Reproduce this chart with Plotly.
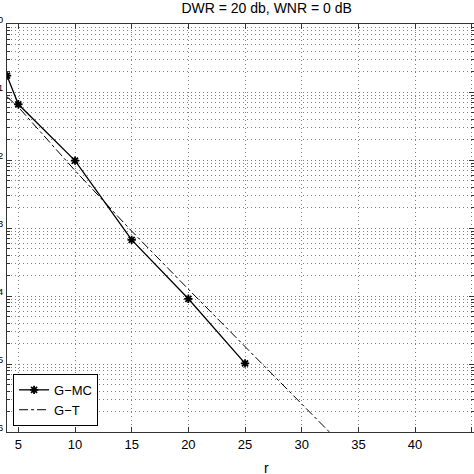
import plotly.graph_objects as go

# G-MC simulated points
r_mc = [4, 5, 10, 15, 20, 25]
p_mc = [0.174, 0.066, 0.0098, 6.7e-4, 9.1e-5, 1.02e-5]

# G-T theoretical curve
r_t = [4, 5, 10, 15, 20, 25, 30, 35]
p_t = [0.085, 0.060, 7.0e-3, 9.0e-4, 1.26e-4, 1.8e-5, 2.6e-6, 3.7e-7]

y_tickvals = [1, 1e-1, 1e-2, 1e-3, 1e-4, 1e-5, 1e-6]
y_ticktext = ["10<sup>0</sup>", "10<sup>-1</sup>", "10<sup>-2</sup>", "10<sup>-3</sup>",
              "10<sup>-4</sup>", "10<sup>-5</sup>", "10<sup>-6</sup>"]
x_tickvals = [5, 10, 15, 20, 25, 30, 35, 40, 45]

FONT = "Liberation Sans, Arial, Helvetica, sans-serif"
GRID = "#808080"
DOTS = "1px,3px"

fig = go.Figure()
fig.add_trace(go.Scatter(
    x=r_mc, y=p_mc, name="G\u2212MC", mode="lines+markers",
    line=dict(color="black", width=1.3),
    marker=dict(symbol="asterisk-open", size=7, color="black",
                line=dict(color="black", width=1.8)),
))
fig.add_trace(go.Scatter(
    x=r_t, y=p_t, name="G\u2212T", mode="lines",
    line=dict(color="black", width=1, dash="dashdot"),
))

fig.update_layout(
    width=474, height=474,
    template="none",
    paper_bgcolor="white", plot_bgcolor="white",
    margin=dict(l=7, r=0, t=24, b=42),
    font=dict(family=FONT, size=13, color="black"),
    title=dict(text="DWR = 20 db, WNR = 0 dB", x=0.556, xref="paper", xanchor="center",
               y=0.993, yref="container", yanchor="top",
               font=dict(family=FONT, size=14, color="black")),
    showlegend=True,
    legend=dict(x=0.013, y=0.015, xanchor="left", yanchor="bottom",
                bgcolor="white", bordercolor="black", borderwidth=1,
                font=dict(family=FONT, size=13, color="black"),
                tracegroupgap=0, itemwidth=30),
    annotations=[dict(text="r", x=0.556, xref="paper", y=-0.088, yref="paper",
                      xanchor="center", yanchor="middle", showarrow=False,
                      font=dict(family=FONT, size=14, color="black"))],
)

fig.update_xaxes(
    range=[4, 45.2], tickvals=x_tickvals, ticks="inside", ticklen=5,
    tickcolor="#333", showline=True, linecolor="#333", linewidth=1, mirror="ticks",
    showgrid=True, gridcolor=GRID, griddash=DOTS, gridwidth=1,
    zeroline=False, automargin=False, tickfont=dict(size=13),
)
fig.update_yaxes(
    type="log", range=[-6, 0], tickvals=y_tickvals, ticktext=y_ticktext,
    ticks="inside", ticklen=5, tickcolor="#333",
    showline=True, linecolor="#333", linewidth=1, mirror="ticks",
    showgrid=True, gridcolor=GRID, griddash=DOTS, gridwidth=1,
    minor=dict(showgrid=True, gridcolor=GRID, griddash=DOTS, gridwidth=1,
               ticks="inside", ticklen=3, tickcolor="#333", dtick="D1"),
    zeroline=False, automargin=False, tickfont=dict(size=14),
    ticklabelstandoff=0,
)

fig.write_html("out.html", config={"displayModeBar": False},
               post_script="document.body.style.margin = '0';")
